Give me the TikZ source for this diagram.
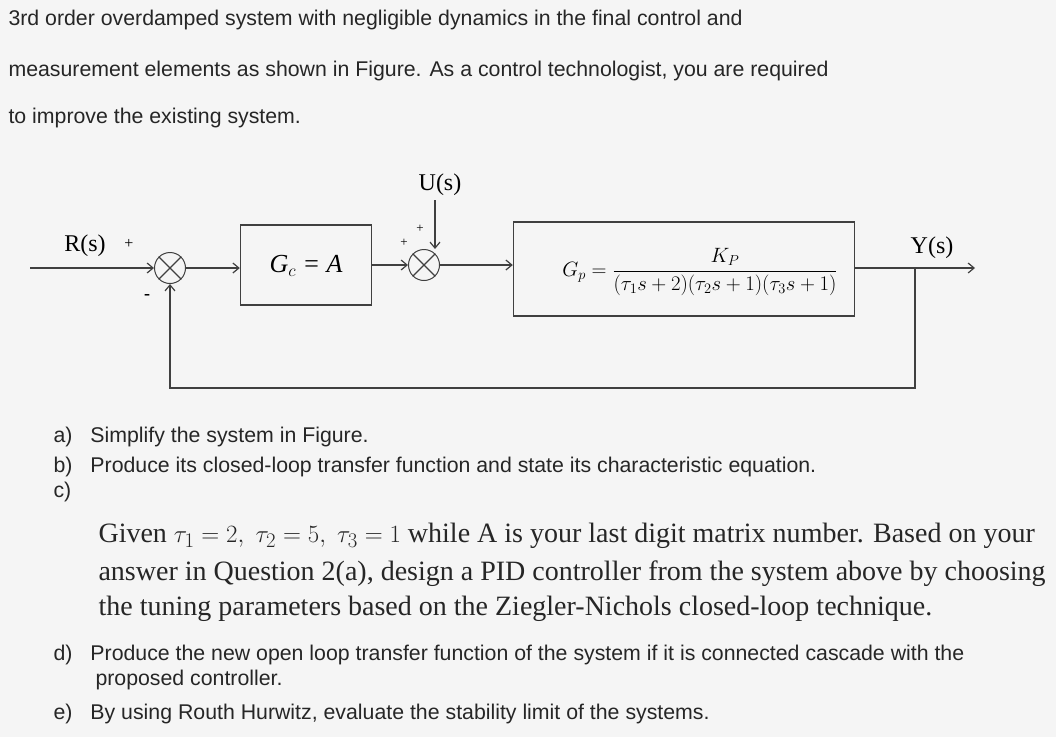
\documentclass[tikz,border=0pt]{standalone}
\usepackage{fontspec}
\usetikzlibrary{arrows.meta}
\setmainfont{Liberation Sans}
\newfontfamily\serif{Liberation Serif}
\begin{document}
\begin{tikzpicture}[x=1pt,y=-1pt,
  blk/.style={draw=black!75,line width=1.4pt},
  sumn/.style={draw=black!75,circle,minimum size=31pt,inner sep=0pt,line width=1pt},
  ln/.style={draw=black!75,line width=1.2pt},
  arr/.style={ln,->,>={Straight Barb[length=6pt,width=10pt]}},
  para/.style={anchor=west,font=\fontsize{21.3}{22}\selectfont,text=black!85},
  ctxt/.style={anchor=west,font=\serif\fontsize{28}{30}\selectfont,text=black!85},
  dtxt/.style={font=\serif\fontsize{24}{26}\selectfont}]
\useasboundingbox[fill=black!4] (0,0) rectangle (1056,737);
\node[para] (t1) at (5,20) {3rd order overdamped system with negligible dynamics in the final control and};
\node[para] (t2) at (5,71) {measurement elements as shown in Figure. As a control technologist, you are required};
\node[para] (t3) at (5,118) {to improve the existing system.};
% diagram
\node[sumn] (s1) at (170,268) {};
\draw[ln] (s1.north west)--(s1.south east) (s1.north east)--(s1.south west);
\node[blk,minimum width=131pt,minimum height=80pt] (gc) at (306,265) {};
\node[dtxt,font=\serif\itshape\fontsize{26}{28}\selectfont] (gct) at (306,266) {G$_c$ = A};
\node[sumn] (s2) at (424,265) {};
\draw[ln] (s2.north west)--(s2.south east) (s2.north east)--(s2.south west);
\node[blk,minimum width=341pt,minimum height=94pt] (gp) at (684,269) {};
\node[dtxt,font=\serif\fontsize{21}{23}\selectfont] (gpt) at (700,272) {$G_p=\displaystyle\frac{K_P}{(\tau_1 s+2)(\tau_2 s+1)(\tau_3 s+1)}$};
\node[dtxt] (r) at (85,246) {R(s)};
\node[dtxt,font=\serif\fontsize{16}{17}\selectfont] (rp) at (129,244) {+};
\node[dtxt,font=\serif\bfseries\fontsize{18}{19}\selectfont] (rm) at (147,297) {-};
\node[dtxt] (u) at (440,185) {U(s)};
\node[dtxt,font=\serif\fontsize{13}{14}\selectfont] (up1) at (420,229) {+};
\node[dtxt,font=\serif\fontsize{13}{14}\selectfont] (up2) at (404,243) {+};
\node[dtxt] (y) at (932,248) {Y(s)};
\coordinate (rin) at (30,268);
\coordinate (yout) at (975,268);
\coordinate (tap) at (915,268);
\coordinate (ub) at (435,200);
\draw[arr] (rin)--(s1.west);
\draw[arr] (s1.east)--(gc.west |- s1);
\draw[arr] (gc.east |- s2)--(s2.west);
\draw[arr] (ub)--(s2.north -| ub);
\draw[arr] (s2.east)--(gp.west |- s2);
\draw[arr] (gp.east |- tap)--(yout);
\draw[arr] (tap)--(915,388)--(170,388)--(s1.south);
% questions
\node[para] (qa) at (50,437) {a)\hspace{18pt}Simplify the system in Figure.};
\node[para] (qb) at (50,467) {b)\hspace{18pt}Produce its closed-loop transfer function and state its characteristic equation.};
\node[para] (qc) at (50,492) {c)};
\node[ctxt] (c1) at (95,536) {Given $\tau_1=2,\ \tau_2=5,\ \tau_3=1$ while A is your last digit matrix number. Based on your};
\node[ctxt] (c2) at (95,574) {answer in Question 2(a), design a PID controller from the system above by choosing};
\node[ctxt] (c3) at (95,609) {the tuning parameters based on the Ziegler-Nichols closed-loop technique.};
\node[para] (qd) at (50,655) {d)\hspace{18pt}Produce the new open loop transfer function of the system if it is connected cascade with the};
\node[para] (qd2) at (92,680) {proposed controller.};
\node[para] (qe) at (50,714) {e)\hspace{18pt}By using Routh Hurwitz, evaluate the stability limit of the systems.};
\end{tikzpicture}
\end{document}
